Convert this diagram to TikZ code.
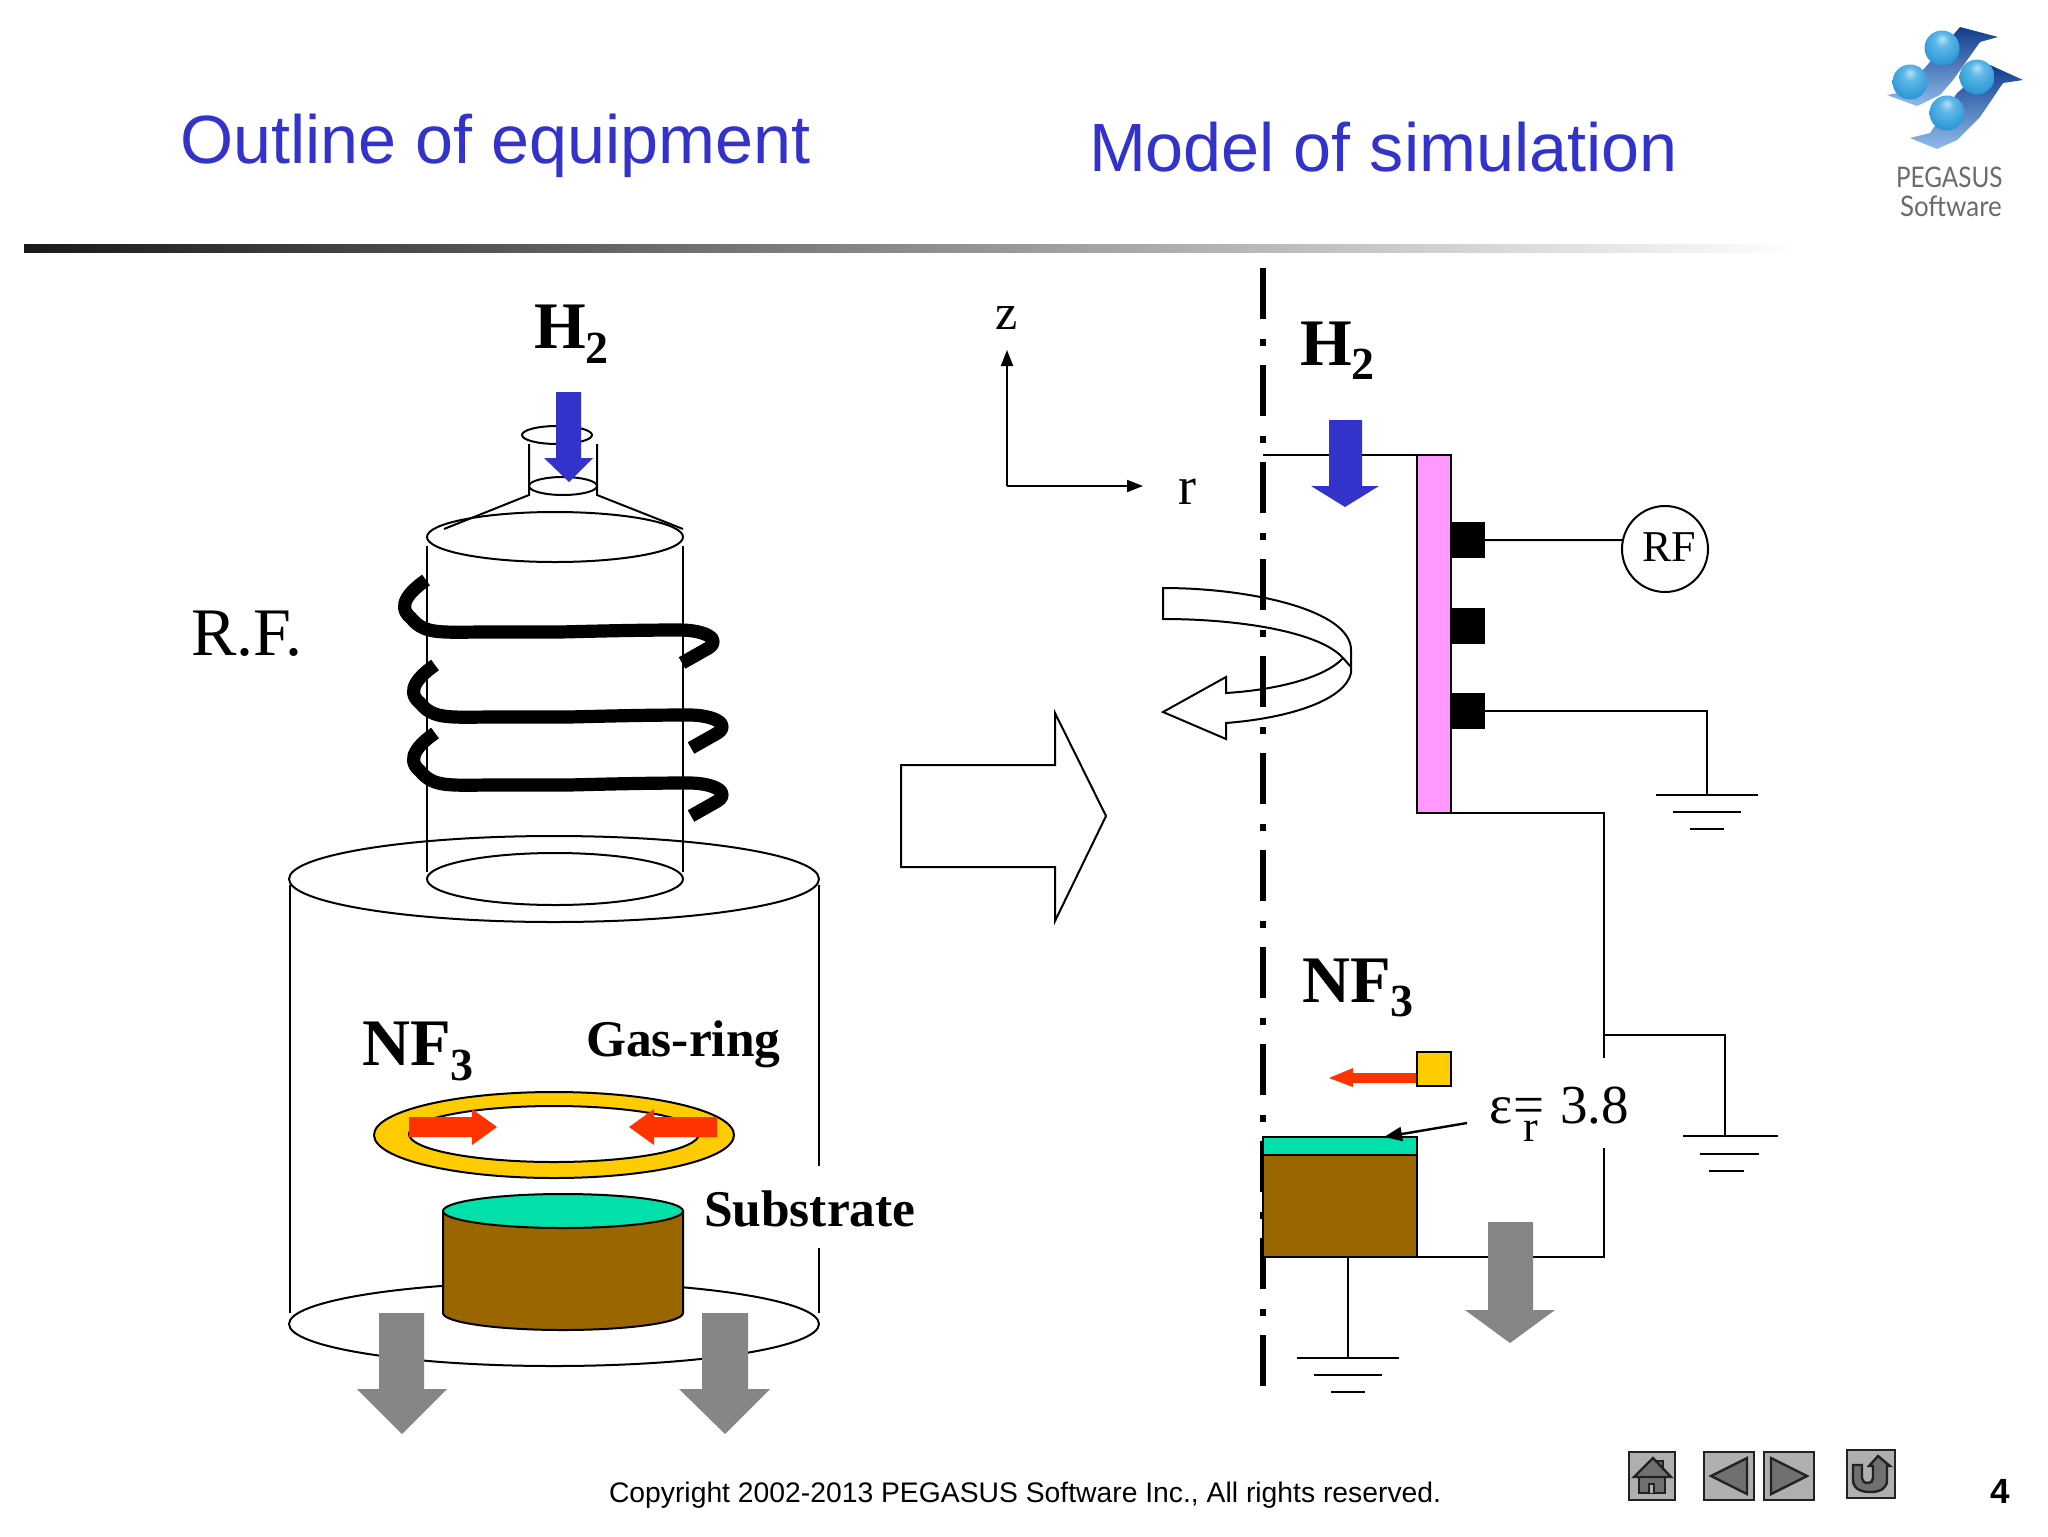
\documentclass[tikz,border=0pt]{standalone}
\usepackage{fontspec}
\setmainfont{Liberation Serif}
\newfontfamily\arialf{Liberation Sans}
\newfontfamily\logof{Lato}
\usetikzlibrary{arrows.meta}
\definecolor{titleblue}{HTML}{3333CC}
\definecolor{gasgold}{HTML}{FFCC00}
\definecolor{subgreen}{HTML}{00E0A8}
\definecolor{subbrown}{HTML}{996600}
\definecolor{flowred}{HTML}{FF3300}
\definecolor{exhaust}{HTML}{868686}
\definecolor{elecpink}{HTML}{FF99FF}
\definecolor{navbg}{HTML}{B0AEB0}
\definecolor{navfg}{HTML}{707070}
\definecolor{navln}{HTML}{222222}
\definecolor{logodark}{HTML}{123C8C}
\definecolor{logomid}{HTML}{2A70C8}
\definecolor{logolight}{HTML}{8FBCEA}
\definecolor{sphA}{HTML}{B5E2F5}
\definecolor{sphB}{HTML}{5FB8E8}
\definecolor{sphC}{HTML}{2E9AD8}
\definecolor{sphD}{HTML}{1560A8}
\pgfdeclareradialshading{sphere}{\pgfpoint{0bp}{14bp}}{
  color(0bp)=(sphA);
  color(10bp)=(sphB);
  color(28bp)=(sphC);
  color(50bp)=(sphD)}
\newcommand{\fpx}[1]{\fontsize{\fpeval{#1/2}pt}{\fpeval{#1/2}pt}\selectfont}
\newcommand{\subdn}[1]{\raisebox{-0.22em}{\fontsize{23pt}{23pt}\selectfont #1}}
\tikzset{
  lab/.style={anchor=base west,inner sep=0pt,outer sep=0pt},
  ttl/.style={lab,font=\arialf\fpx{68.3},text=titleblue},
  bigb/.style={lab,font=\bfseries\fpx{66.5}},
  midb/.style={lab,font=\bfseries\fpx{51.5}},
  wire/.style={line width=1pt,black},
  coil/.style={line width=6.6pt,black,line join=round},
  boxn/.style={draw=black,line width=1pt,inner sep=0pt,outer sep=0pt},
  navb/.style={draw=navln,line width=1.3pt,fill=navbg},
  navi/.style={draw=navln,line width=1.2pt,fill=navfg,line join=miter},
}
\begin{document}
\begin{tikzpicture}[x=0.5pt,y=-0.5pt]
\useasboundingbox (0,0) rectangle (2048,1536);
\fill[white] (0,0) rectangle (2048,1536);
% titles
\node[ttl] (t1) at (180,163) {Outline of equipment};
\node[ttl] (t2) at (1089,171) {Model of simulation};
\shade[left color=black!90,right color=white] (24,244) rectangle (1800,252);
% logo
\shade[top color=logodark,bottom color=logolight]
  (1960,27) -- (1998,37) -- (1980,42) -- (1953,80) -- (1940,95) -- (1917,106) -- (1887,95) -- (1915,90) -- (1923,70) -- cycle;
\shade[top color=logodark,bottom color=logolight]
  (1990,65) -- (2023,80) -- (2003,83) -- (1980,117) -- (1957,140) -- (1937,149) -- (1910,138) -- (1930,133) -- (1957,93) -- cycle;
\shade[shading=sphere] (1942,48) circle (17.5);
\shade[shading=sphere] (1910,82) circle (17.5);
\shade[shading=sphere] (1977,77) circle (17.5);
\shade[shading=sphere] (1947,113) circle (17.5);
\node[lab,font=\logof\fpx{27},text=black!58] (lg1) at (1896,187) {\scalebox{0.9}[1.05]{PEGASUS}};
\node[lab,font=\logof\fpx{27},text=black!58] (lg2) at (1900,216) {\scalebox{0.96}[1.05]{Software}};
% ---------- left: apparatus ----------
\coordinate (nlt) at (529,444); \coordinate (nlb) at (529,495);
\coordinate (nrt) at (597,444); \coordinate (nrb) at (597,495);
\coordinate (fl) at (444,529); \coordinate (fr) at (683,529);
\draw[wire] (557,435) ellipse [x radius=35,y radius=9];
\draw[wire] (nlt) -- (nlb) -- (fl);
\draw[wire] (nrt) -- (nrb) -- (fr);
\draw[wire] (563,486) ellipse [x radius=34,y radius=9];
\draw[wire] (555,537) ellipse [x radius=128,y radius=25];
\draw[wire] (427,546) -- (427,872);
\draw[wire] (683,546) -- (683,872);
\draw[wire] (554,879) ellipse [x radius=265,y radius=43];
\draw[wire] (555,879) ellipse [x radius=128,y radius=26];
\draw[wire] (290,885) -- (290,1313);
\draw[wire] (819,885) -- (819,1166);
\draw[wire] (819,1248) -- (819,1313);
\draw[wire] (554,1324) ellipse [x radius=265,y radius=42];
% blue arrow
\fill[titleblue] (556,392) -- (581,392) -- (581,458) -- (593,458) -- (569,482) -- (544,458) -- (556,458) -- cycle;
% coils
\foreach \dx/\dy in {0/0,9/85,9/153}{
\begin{scope}[shift={(\dx,\dy)}]
\draw[coil] (426,580) .. controls (412,590) and (395,605) .. (411,618)
  .. controls (425,635) and (440,632) .. (490,632)
  -- (560,632) .. controls (600,631) and (640,630) .. (680,630)
  .. controls (705,630) and (725,640) .. (705,650) -- (682,663);
\end{scope}}
% gas ring
\draw[wire,fill=gasgold] (554,1135) ellipse [x radius=180,y radius=43];
\draw[wire,fill=white] (554,1134) ellipse [x radius=145,y radius=28];
\fill[flowred] (409,1117) -- (472,1117) -- (472,1109) -- (497,1127) -- (472,1145) -- (472,1137) -- (409,1137) -- cycle;
\fill[flowred] (717,1117) -- (654,1117) -- (654,1109) -- (629,1127) -- (654,1145) -- (654,1137) -- (717,1137) -- cycle;
% substrate
\draw[wire,fill=subbrown] (443,1211) -- (443,1313) arc[start angle=180,end angle=360,x radius=120,y radius=-17] -- (683,1211) -- cycle;
\draw[wire,fill=subgreen] (563,1211) ellipse [x radius=120,y radius=17];
% exhaust
\fill[exhaust] (379,1313) -- (424,1313) -- (424,1389) -- (447,1389) -- (402,1434) -- (357,1389) -- (379,1389) -- cycle;
\fill[exhaust] (702,1313) -- (748,1313) -- (748,1389) -- (770,1389) -- (725,1434) -- (679,1389) -- (702,1389) -- cycle;
% left labels
\node[bigb] (h2l) at (534,348.5) {H\subdn{2}};
\node[lab,font=\fpx{68}] (rfl) at (191,655.5) {R.F.};
\node[bigb] (nfl) at (362,1065.5) {NF\subdn{3}};
\node[midb] (gas) at (586,1056.5) {Gas-ring};
\node[midb] (subs) at (704,1226.5) {Substrate};
% big block arrow
\draw[wire] (901,765) -- (1055,765) -- (1055,713) -- (1106,816) -- (1055,921) -- (1055,867) -- (901,867) -- cycle;
% axes
\coordinate (orig) at (1007,486); \coordinate (zend) at (1007,350); \coordinate (rend) at (1143,486);
\draw[wire,-{Triangle[length=8pt,width=6pt]}] (orig) -- (zend);
\draw[wire,-{Triangle[length=8pt,width=6pt]}] (orig) -- (rend);
\node[lab,font=\fpx{50}] (zl) at (995,329) {z};
\node[lab,font=\fpx{54}] (rl) at (1178,504) {r};
% axis of symmetry
\coordinate (axt) at (1263,268); \coordinate (axb) at (1263,1388);
\draw[black,line width=3.2pt,dash pattern=on 25.5pt off 10pt on 3.5pt off 9.5pt] (axt) -- (axb);
% rotation arrow
\draw[wire,line join=miter] (1163,588) .. controls (1250,588) and (1351,610) .. (1351,650) -- (1351,673)
  .. controls (1345,700) and (1290,718) .. (1226,723) -- (1226,739) -- (1163,712) -- (1226,677) -- (1226,693)
  .. controls (1275,690) and (1325,678) .. (1343,658)
  .. controls (1320,632) and (1240,619) .. (1163,619) -- cycle;
\draw[wire] (1343,658) -- (1351,667);
% electrode
\node[boxn,fill=elecpink,minimum width=17pt,minimum height=179pt] (elec) at (1434,634) {};
\coordinate (axe) at (1263,455);
\draw[wire] (axe) -- (axe -| elec.west);
\node[boxn,draw=none,fill=black,minimum width=17pt,minimum height=18pt] (sq1) at (1468,540) {};
\node[boxn,draw=none,fill=black,minimum width=17pt,minimum height=18pt] (sq2) at (1468,626) {};
\node[boxn,draw=none,fill=black,minimum width=17pt,minimum height=18pt] (sq3) at (1468,711) {};
\node[boxn,circle,minimum size=43pt] (rf) at (1665,549) {};
\node[lab,font=\fpx{44}] (rft) at (1642,561) {RF};
\draw[wire] (sq1.east) -- (rf.168);
% ground 1
\coordinate (g1a) at (1707,795);
\draw[wire] (sq3.east) -| (g1a);
\draw[wire] (1656,795) -- (1758,795) (1673,812) -- (1741,812) (1690,829) -- (1724,829);
% blue arrow right
\fill[titleblue] (1329,420) -- (1362,420) -- (1362,486) -- (1379,486) -- (1345,507) -- (1311,486) -- (1329,486) -- cycle;
\node[bigb] (h2r) at (1300,365) {H\subdn{2}};
\node[bigb] (nfr) at (1302,1002) {NF\subdn{3}};
% wiring to ground
\coordinate (wc) at (1604,813); \coordinate (wd) at (1604,1058);
\coordinate (we) at (1604,1148); \coordinate (wf) at (1604,1257);
\coordinate (wg) at (1604,1035); \coordinate (wh) at (1725,1136);
\draw[wire] (elec.south east) -- (wc) -- (wd);
\draw[wire] (wg) -| (wh);
\draw[wire] (1683,1136) -- (1778,1136) (1700,1154) -- (1759,1154) (1709,1171) -- (1744,1171);
% brown block
\node[boxn,fill=subbrown,minimum width=77pt,minimum height=51pt] (blk) at (1340,1206) {};
\node[boxn,fill=subgreen,minimum width=77pt,minimum height=9pt] (film) at (1340,1146) {};
\draw[wire] (blk.south east) -- (wf) -- (we);
\coordinate (g2) at (1348,1358);
\draw[wire] (1348,1257) -- (g2);
\draw[wire] (1297,1358) -- (1399,1358) (1314,1375) -- (1382,1375) (1331,1392) -- (1365,1392);
\fill[exhaust] (1488,1222) -- (1533,1222) -- (1533,1310) -- (1555,1310) -- (1510,1343) -- (1465,1310) -- (1488,1310) -- cycle;
% gas-ring cross-section
\fill[flowred] (1417,1073) -- (1353,1073) -- (1353,1068) -- (1329,1078) -- (1353,1087) -- (1353,1083) -- (1417,1083) -- cycle;
\node[boxn,fill=gasgold,minimum width=17pt,minimum height=17pt] (gold) at (1434,1069) {};
% permittivity
\node[lab,font=\fpx{55}] (eps) at (1489,1123) {ε};
\node[lab,font=\fpx{55}] (eqs) at (1513,1123) {=};
\node[lab,font=\fpx{44}] (rsub) at (1523,1141) {r};
\node[lab,font=\fpx{55}] (val) at (1560,1123) {3.8};
\coordinate (ptr) at (1467,1123);
\draw[line width=1.2pt,black,-{Triangle[length=9pt,width=7pt]}] (ptr) -- (1384,1137);
% footer
\node[lab,font=\arialf\fpx{28.3}] (copy) at (609,1502) {Copyright 2002-2013 PEGASUS Software Inc., All rights reserved.};
\node[lab,font=\arialf\bfseries\fpx{35}] (pg) at (1990,1503) {4};
% nav
\draw[navb] (1629,1452) rectangle (1675,1500);
\draw[navi] (1658,1468) -- (1658,1461) -- (1663,1461) -- (1663,1470);
\draw[navi] (1639,1477) rectangle (1665,1493);
\draw[navi] (1634,1477) -- (1653,1458) -- (1671,1477) -- cycle;
\draw[navi,fill=navbg] (1649,1493) -- (1649,1484) -- (1654,1484) -- (1654,1493);
\draw[navb] (1704,1452) rectangle (1754,1500);
\draw[navi] (1711,1476) -- (1747,1458) -- (1747,1494) -- cycle;
\draw[navb] (1764,1452) rectangle (1814,1500);
\draw[navi] (1771,1458) -- (1807,1476) -- (1771,1494) -- cycle;
\draw[navb] (1847,1450) rectangle (1895,1498);
\draw[navi] (1853,1465) -- (1853,1480) .. controls (1853,1488) and (1860,1492) .. (1870,1492)
  .. controls (1881,1492) and (1887,1488) .. (1887,1480) -- (1887,1466) -- (1890,1466) -- (1878,1456) -- (1869,1466) -- (1873,1466) -- (1873,1478)
  .. controls (1873,1481) and (1871,1483) .. (1868,1483) .. controls (1864,1483) and (1862,1481) .. (1862,1478) -- (1862,1465) -- cycle;
\end{tikzpicture}
\end{document}
